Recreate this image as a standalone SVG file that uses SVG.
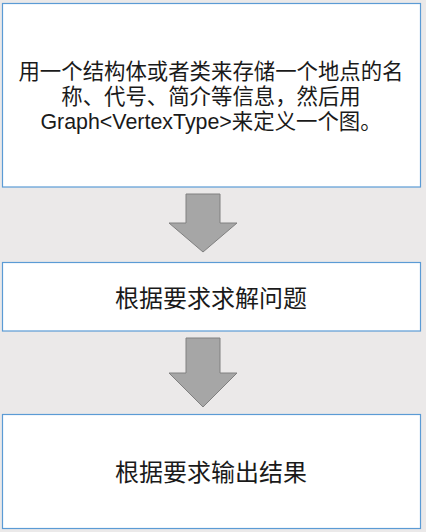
<svg xmlns="http://www.w3.org/2000/svg" width="426" height="532" viewBox="0 0 426 532">
<style>
.bg{fill:#ebe9e9}
.box{fill:#ffffff;stroke:#5b9bd5;stroke-width:1.2}
.arrow{fill:#a6a6a6;stroke:#808080;stroke-width:1}
text{font-family:"Liberation Sans","Noto Sans CJK SC",sans-serif;fill:#1a1a1a;text-anchor:middle}
.t1{font-size:21.4px}
.t2{font-size:24px}
</style>
<rect class="bg" x="0" y="0" width="426" height="532"/>
<g id="node1">
<rect class="box" x="2.5" y="3.5" width="418" height="183.5"/>
<text class="t1" x="211" y="79">用一个结构体或者类来存储一个地点的名</text>
<text class="t1" x="211" y="104">称、代号、简介等信息，然后用</text>
<text class="t1" x="211" y="129">Graph&lt;VertexType&gt;来定义一个图。</text>
</g>
<g id="node2">
<rect class="box" x="2.5" y="262.5" width="418" height="68.5"/>
<text class="t2" x="211" y="306.5">根据要求求解问题</text>
</g>
<g id="node3">
<rect class="box" x="2.5" y="414.5" width="418" height="114"/>
<text class="t2" x="211" y="481">根据要求输出结果</text>
</g>
<g id="connectors">
<polygon class="arrow" points="186,194 220,194 220,223 237,223 203,252 169,223 186,223"/>
<polygon class="arrow" points="186,338 220,338 220,373 237,373 203,407 169,373 186,373"/>
</g>
</svg>
